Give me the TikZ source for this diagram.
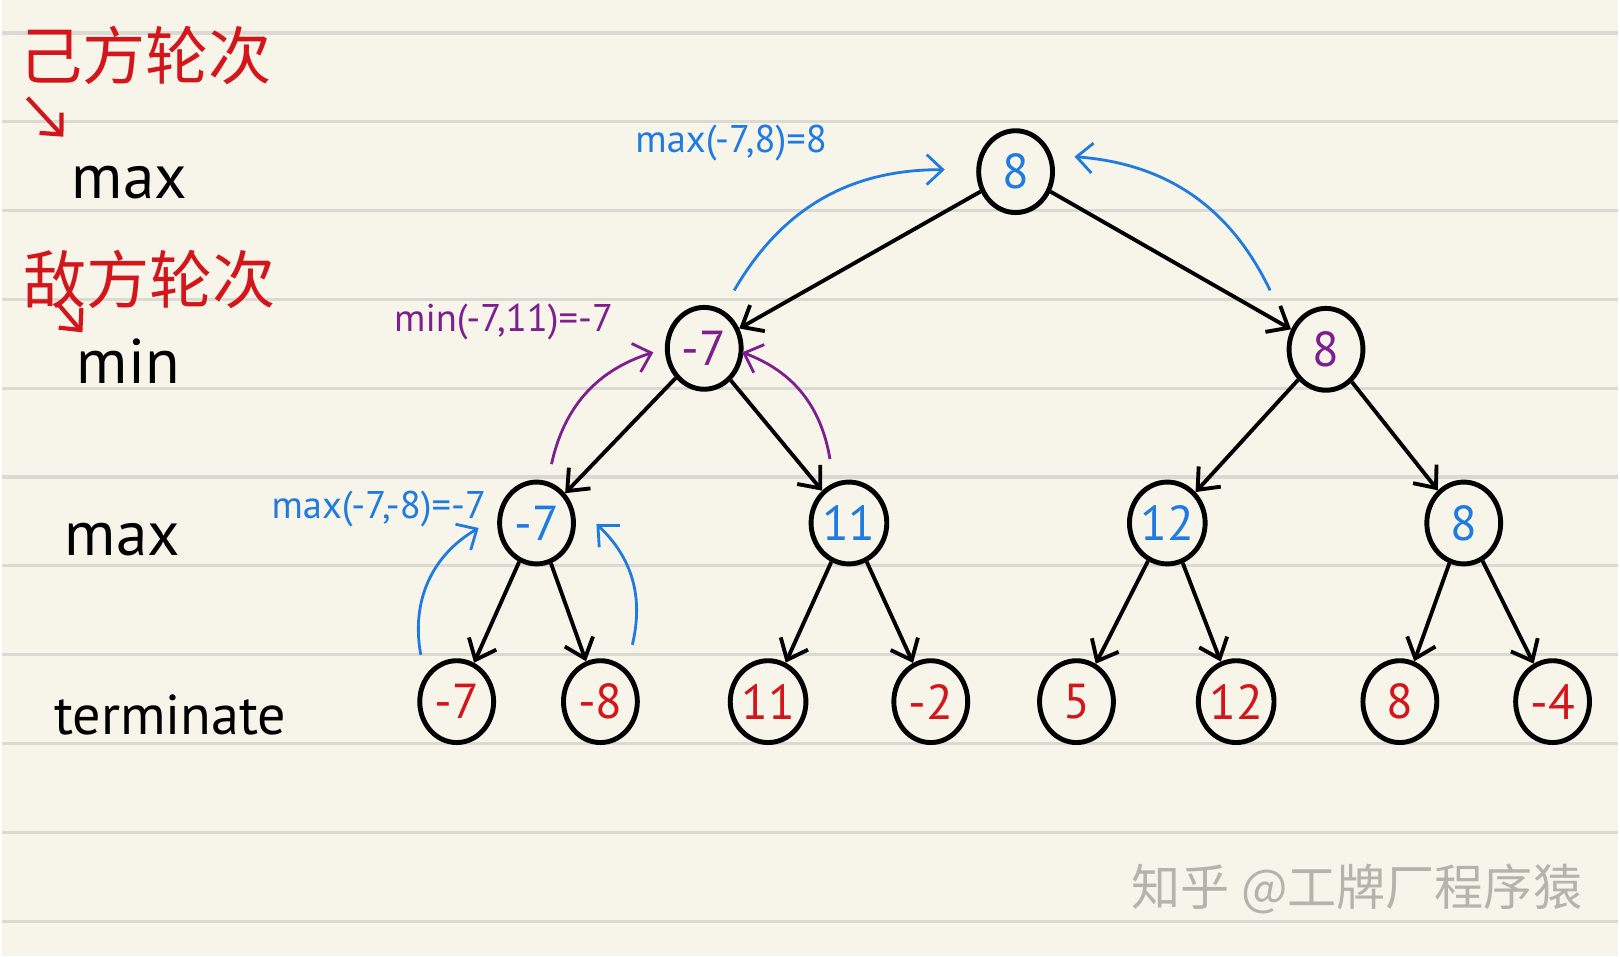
\documentclass[tikz,border=0pt]{standalone}
\usepackage{fontspec}
\setmainfont{PT Sans}
\newfontfamily\cjkfont{Noto Sans CJK SC}
\usetikzlibrary{arrows.meta, shapes.geometric}
\definecolor{mPaper}{HTML}{F7F5EA}
\definecolor{mRule}{HTML}{DAD9D2}
\definecolor{mBlue}{HTML}{1F7BE0}
\definecolor{mPurple}{HTML}{7D1F8E}
\definecolor{mRed}{HTML}{D3161B}
\definecolor{mMark}{HTML}{B5B4AC}
\tikzset{
  tnode/.style={draw, ellipse, line width=1.4pt, minimum width=7.4mm,
                minimum height=8.2mm, inner sep=0pt, font=\fontsize{14}{14}\selectfont},
  tleaf/.style={tnode, text=mRed},
  tedge/.style={line width=1.1pt, -{Straight Barb[length=1.8mm, width=3mm]}},
  tback/.style={line width=0.8pt, -{Straight Barb[length=1.6mm, width=3mm]}},
  rowlabel/.style={font=\fontsize{18}{18}\selectfont},
  calcnote/.style={font=\fontsize{11}{11}\selectfont},
  turnlabel/.style={text=mRed, font=\cjkfont\fontsize{18}{18}\selectfont},
}
\begin{document}
\begin{tikzpicture}[x=0.1mm, y=0.1mm]
    \fill[mPaper] (0,0) rectangle (1620,-958);
    \foreach \k in {0,...,10}
      \draw[mRule, line width=0.9pt] (0,{-33-89*\k}) -- (1620,{-33-89*\k});
    \useasboundingbox (0,0) rectangle (1620,-958);
    \node[turnlabel] (own) at (144,-56) {己方轮次};
    \node[turnlabel] (foe) at (148,-280) {敌方轮次};
    \coordinate (own0) at (26,-98);
    \coordinate (own1) at (62,-137);
    \coordinate (foe0) at (57,-305);
    \coordinate (foe1) at (81,-333);
    \draw[tback, mRed, line width=1.2pt] (own0) -- (own1);
    \draw[tback, mRed, line width=1.2pt] (foe0) -- (foe1);
    \node[rowlabel] (row1) at (128,-183) {max};
    \node[rowlabel] (row2) at (127,-362) {min};
    \node[rowlabel] (row3) at (121,-541) {max};
    \node[rowlabel, font=\fontsize{16}{16}\selectfont] (row4) at (169,-716) {terminate};
    \node[tnode, text=mBlue] (r) at (1016,-172) {8};
    \node[tnode, text=mPurple] (l) at (704,-349) {-7};
    \node[tnode, text=mPurple] (rr) at (1327,-350) {8};
    \node[tnode, text=mBlue] (ll) at (536,-524) {-7};
    \node[tnode, text=mBlue] (lr) at (849,-524) {11};
    \node[tnode, text=mBlue] (rl) at (1168,-524) {12};
    \node[tnode, text=mBlue] (rrr) at (1465,-524) {8};
    \node[tleaf] (a) at (456,-703) {-7};
    \node[tleaf] (b) at (600,-703) {-8};
    \node[tleaf] (c) at (768,-703) {11};
    \node[tleaf] (d) at (931,-703) {-2};
    \node[tleaf] (e) at (1077,-703) {5};
    \node[tleaf] (f) at (1237,-703) {12};
    \node[tleaf] (g) at (1401,-703) {8};
    \node[tleaf] (h) at (1554,-703) {-4};
    \draw[tedge] (r) -- (l);
    \draw[tedge] (r) -- (rr);
    \draw[tedge] (l) -- (ll);
    \draw[tedge] (l) -- (lr);
    \draw[tedge] (rr) -- (rl);
    \draw[tedge] (rr) -- (rrr);
    \draw[tedge] (ll) -- (a);
    \draw[tedge] (ll) -- (b);
    \draw[tedge] (lr) -- (c);
    \draw[tedge] (lr) -- (d);
    \draw[tedge] (rl) -- (e);
    \draw[tedge] (rl) -- (f);
    \draw[tedge] (rrr) -- (g);
    \draw[tedge] (rrr) -- (h);
    \node[calcnote, text=mBlue] (n1) at (731,-143) {max(-7,8)=8};
    \node[calcnote, text=mPurple] (n2) at (503,-323) {min(-7,11)=-7};
    \node[calcnote, text=mBlue] (n3) at (378,-510) {max(-7,-8)=-7};
    \coordinate (u1) at (734,-291);
    \coordinate (v1) at (945,-170);
    \coordinate (u2) at (1271,-291);
    \coordinate (v2) at (1075,-157);
    \coordinate (u3) at (551,-465);
    \coordinate (v3) at (653,-353);
    \coordinate (u4) at (830,-460);
    \coordinate (v4) at (742,-353);
    \coordinate (u5) at (420,-656);
    \coordinate (v5) at (478,-529);
    \coordinate (u6) at (632,-646);
    \coordinate (v6) at (596,-525);
    \draw[tback, mBlue] (u1) to[bend left=30] (v1);
    \draw[tback, mBlue] (u2) to[bend right=30] (v2);
    \draw[tback, mPurple] (u3) to[bend left=30] (v3);
    \draw[tback, mPurple] (u4) to[bend right=30] (v4);
    \draw[tback, mBlue] (u5) to[bend left=35] (v5);
    \draw[tback, mBlue] (u6) to[bend right=30] (v6);
    \node[font=\cjkfont\fontsize{14}{14}\selectfont, text=mMark] (mark) at (1358,-891) {知乎 @工牌厂程序猿};
  \end{tikzpicture}
\end{document}
